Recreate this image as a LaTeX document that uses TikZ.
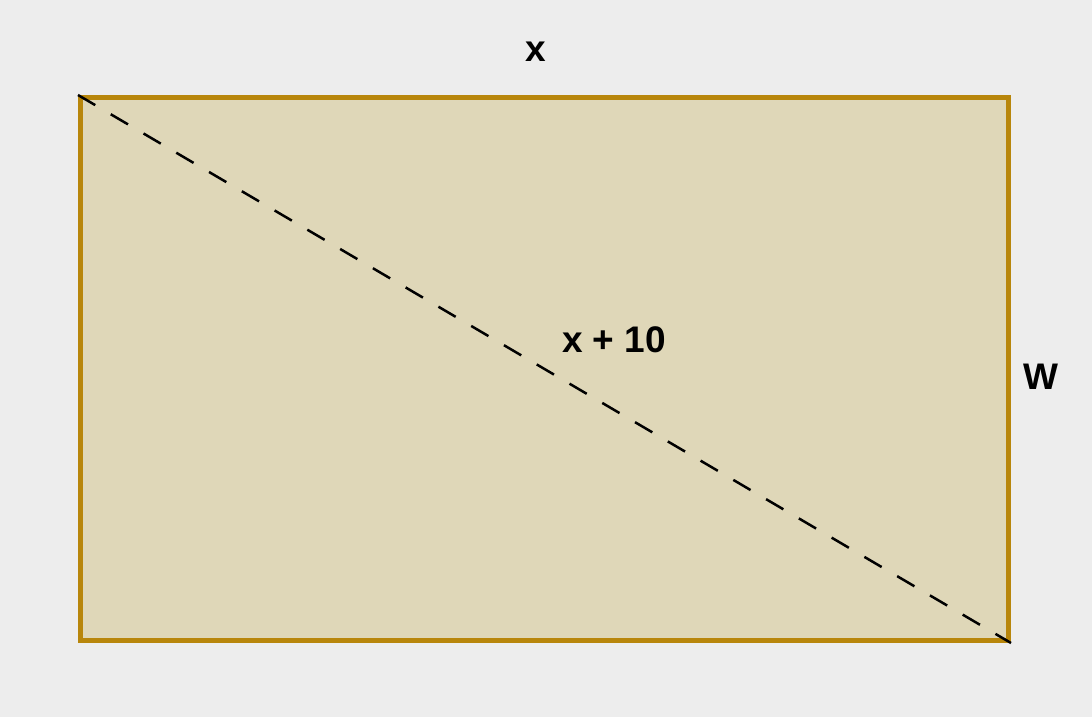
\documentclass[tikz,border=0pt]{standalone}
\usepackage{fontspec}
\setmainfont{Liberation Sans}
\definecolor{bg}{HTML}{EDEDED}
\definecolor{rectfill}{HTML}{DFD7B8}
\definecolor{rectedge}{HTML}{B8860B}
\tikzset{
  lbl/.style={font=\fontsize{37}{40}\selectfont\bfseries, inner sep=0pt},
  diag/.style={draw=black, line width=2.5pt, dash pattern=on 20pt off 18pt},
}
\begin{document}
\begin{tikzpicture}[x=1pt,y=-1pt]
\fill[bg] (0,0) rectangle (1092,717);
\useasboundingbox (0,0) rectangle (1092,717);
\node[draw=rectedge, fill=rectfill, line width=5pt, minimum width=928pt, minimum height=543pt, inner sep=0pt, anchor=north west] (r) at (78,95) {};
\draw[diag] (r.north west) -- (r.south east);
\node[lbl] (lx) at (536,52) {x};
\node[lbl] (ld) at (614,340) {x + 10};
\node[lbl] (lw) at (1041,377) {W};
\end{tikzpicture}
\end{document}
